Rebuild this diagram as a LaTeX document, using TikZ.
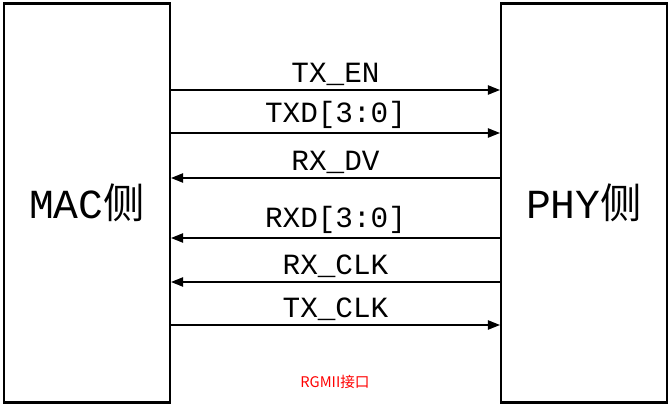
\documentclass[tikz,border=0pt]{standalone}
\usepackage{fontspec}
\setmainfont{Liberation Mono}
\newfontfamily\cjk{Noto Sans CJK SC}
\usetikzlibrary{arrows.meta,calc}
\begin{document}
\begin{tikzpicture}[x=0.75pt,y=-0.75pt,
  box/.style={draw,line width=1.6pt,inner sep=0},
  sig/.style={line width=1pt,-{Triangle[length=9pt,width=7pt]}},
  lab/.style={font=\fontsize{22}{22}\selectfont,inner sep=1pt}]
\useasboundingbox (0,0) rectangle (671,406);
\node[box,minimum width=166*0.75pt,minimum height=399*0.75pt] (mac) at (87,203) {};
\node[box,minimum width=166*0.75pt,minimum height=399*0.75pt] (phy) at (584,203) {};
\node[font=\fontsize{31}{31}\selectfont] at (mac.center) {MAC{\cjk 侧}};
\node[font=\fontsize{31}{31}\selectfont] at (phy.center) {PHY{\cjk 侧}};
\foreach \y/\d/\t in {90/r/TX\_EN,133/r/TXD[3:0],178/l/RX\_DV,238/l/RXD[3:0],282/l/RX\_CLK,325/r/TX\_CLK}{
  \coordinate (a\y) at (mac.east|-0,\y);
  \coordinate (b\y) at (phy.west|-0,\y);
  \if r\d \draw[sig] (a\y) -- (b\y); \else \draw[sig] (b\y) -- (a\y); \fi
  \node[lab,anchor=south] at ($(a\y)!0.5!(b\y)+(0,-3)$) {\t};
}
\node[text=red,font=\cjk\fontsize{11}{11}\selectfont] (cap) at (335,382) {RGMII接口};
\end{tikzpicture}
\end{document}
